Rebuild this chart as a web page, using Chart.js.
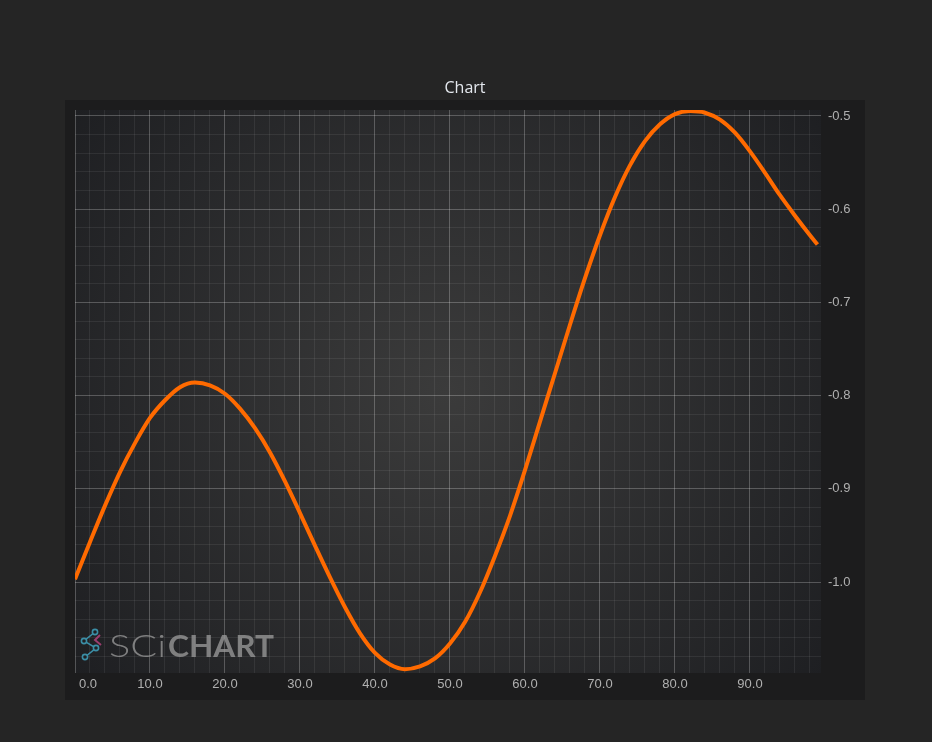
<!DOCTYPE html>
<html>
<head>
<meta charset="utf-8">
<script src="https://cdn.jsdelivr.net/npm/chart.js@4.4.0/dist/chart.umd.min.js"></script>
<style>
  html, body { margin: 0; padding: 0; background: #252525; }
  #wrap { position: relative; width: 932px; height: 742px; }
</style>
</head>
<body>
<div id="wrap"><canvas id="grafico" width="932" height="742"></canvas></div>
<script>
// valores
const xValues = [0, 2, 4, 6, 8, 10, 12, 14, 16, 18, 20, 22, 24, 26, 28, 30, 32, 34, 36, 38,
  40, 42, 44, 46, 48, 50, 52, 54, 56, 58, 60, 62, 64, 66, 68, 70, 72, 74, 76, 78,
  80, 82, 84, 86, 88, 90, 92, 94, 96, 98, 99];
const yValues = [-0.997, -0.957, -0.918, -0.882, -0.851, -0.824, -0.805, -0.791, -0.786, -0.789,
  -0.798, -0.814, -0.835, -0.861, -0.892, -0.926, -0.961, -0.995, -1.027, -1.055,
  -1.076, -1.0885, -1.0935, -1.0905, -1.082, -1.066, -1.043, -1.011, -0.972, -0.929,
  -0.880, -0.828, -0.776, -0.724, -0.674, -0.628, -0.587, -0.553, -0.527, -0.509,
  -0.498, -0.4948, -0.4965, -0.504, -0.518, -0.538, -0.561, -0.585, -0.607, -0.628, -0.638];

const xMajorTicks = [0, 10, 20, 30, 40, 50, 60, 70, 80, 90];
const yMajorTicks = [-1.0, -0.9, -0.8, -0.7, -0.6, -0.5];
const xMinorStep = 2;
const yMinorStep = 0.02;
const xRange = [0, 99.47];
const yRange = [-1.0976, -0.4936];
const titulo = "Chart";

const FONTE = "'Liberation Sans', Arial, sans-serif";
const corMaior = "rgba(255,255,255,0.24)";
const corMenor = "rgba(255,255,255,0.07)";
const corTexto = "#b0b0b0";

const ehMultiplo = (v, passo) => Math.abs(v / passo - Math.round(v / passo)) < 1e-6;
const ehMaior = (v, lista) => lista.some((m) => Math.abs(m - v) < 1e-6);

const corGrade = (lista, passo) => (c) => {
  const v = c.tick ? c.tick.value : null;
  if (v === null) return "transparent";
  if (ehMaior(v, lista)) return corMaior;
  if (ehMultiplo(v, passo)) return corMenor;
  return "transparent";
};

const fundoPlugin = {
  id: "fundo",
  beforeDraw(chart) {
    const { ctx, chartArea: a } = chart;
    const px = a.left - 10, py = a.top - 10;
    const pw = a.right + 44 - px, ph = a.bottom + 27 - py;
    ctx.save();
    ctx.fillStyle = "#1c1c1d";
    ctx.fillRect(px, py, pw, ph);
    const cx = (a.left + a.right) / 2, cy = (a.top + a.bottom) / 2;
    const g = ctx.createRadialGradient(cx, cy, 0, cx, cy, 470);
    g.addColorStop(0, "#3b3b3b");
    g.addColorStop(1, "#1e1f22");
    ctx.fillStyle = g;
    ctx.fillRect(a.left, a.top, a.right - a.left, a.bottom - a.top);
    // titulo
    ctx.fillStyle = "#e4e8ee";
    ctx.font = "16px 'Open Sans', " + FONTE;
    ctx.textAlign = "center";
    ctx.textBaseline = "middle";
    ctx.fillText(titulo, px + pw / 2, py - 12);
    ctx.restore();
  },
};

const marcaPlugin = {
  id: "marca",
  beforeDatasetsDraw(chart) {
    const { ctx, chartArea: a } = chart;
    const x = a.left + 34, y = a.bottom - 16;
    ctx.save();
    // icone
    const p = [[a.left + 20, a.bottom - 41], [a.left + 9, a.bottom - 32], [a.left + 21, a.bottom - 25], [a.left + 10, a.bottom - 16]];
    ctx.strokeStyle = "#3b8ea6";
    ctx.lineWidth = 1.6;
    ctx.beginPath();
    ctx.moveTo(p[0][0], p[0][1]);
    for (let i = 1; i < p.length; i++) ctx.lineTo(p[i][0], p[i][1]);
    ctx.stroke();
    p.forEach(([qx, qy]) => {
      ctx.beginPath();
      ctx.fillStyle = "#1f2023";
      ctx.arc(qx, qy, 2.6, 0, Math.PI * 2);
      ctx.fill();
      ctx.stroke();
    });
    ctx.strokeStyle = "#9c3d6e";
    ctx.lineWidth = 2;
    ctx.beginPath();
    ctx.moveTo(a.left + 25, a.bottom - 38);
    ctx.lineTo(a.left + 20, a.bottom - 33);
    ctx.lineTo(a.left + 26, a.bottom - 28);
    ctx.stroke();
    // texto
    ctx.fillStyle = "rgba(150,150,150,0.8)";
    ctx.textBaseline = "alphabetic";
    ctx.font = "300 31px Lato, " + FONTE;
    let w = ctx.measureText("SCi").width;
    ctx.save();
    ctx.translate(x, y);
    ctx.scale(57 / w, 1);
    ctx.fillText("SCi", 0, 0);
    ctx.restore();
    ctx.font = "bold 31px Lato, " + FONTE;
    w = ctx.measureText("CHART").width;
    ctx.save();
    ctx.translate(x + 59, y);
    ctx.scale(106 / w, 1);
    ctx.fillText("CHART", 0, 0);
    ctx.restore();
    ctx.restore();
  },
};

// rotulos do eixo x (o primeiro fica dentro da area)
const rotulosXPlugin = {
  id: "rotulosX",
  afterDraw(chart) {
    const { ctx, chartArea: a } = chart;
    const escala = chart.scales.x;
    ctx.save();
    ctx.fillStyle = corTexto;
    ctx.font = "13px " + FONTE;
    ctx.textAlign = "center";
    ctx.textBaseline = "middle";
    xMajorTicks.forEach((v) => {
      const txt = v.toFixed(1);
      const w = ctx.measureText(txt).width;
      const cx = Math.max(escala.getPixelForValue(v), a.left + 4 + w / 2);
      ctx.fillText(txt, cx, a.bottom + 11);
    });
    ctx.restore();
  },
};

const ctx = document.getElementById("grafico").getContext("2d");
const grafico = new Chart(ctx, {
  type: "line",
  data: {
    datasets: [
      {
        data: xValues.map((x, i) => ({ x: x, y: yValues[i] })),
        borderColor: "#ff6a00",
        borderWidth: 4,
        pointRadius: 0,
        fill: false,
        cubicInterpolationMode: "monotone",
        clip: 0,
      },
    ],
  },
  options: {
    responsive: false,
    animation: false,
    layout: { padding: { left: 75, right: 67, top: 110, bottom: 42 } },
    scales: {
      x: {
        type: "linear",
        position: "bottom",
        min: xRange[0],
        max: xRange[1],
        border: { display: false },
        grid: { color: corGrade(xMajorTicks, xMinorStep), lineWidth: 1, drawTicks: false },
        ticks: {
          display: false,
          stepSize: xMinorStep,
          autoSkip: false,
          includeBounds: false,
        },
        afterFit: (s) => { s.height = 27; },
      },
      y: {
        type: "linear",
        position: "right",
        min: yRange[0],
        max: yRange[1],
        border: { display: false },
        grid: { color: corGrade(yMajorTicks, yMinorStep), lineWidth: 1, drawTicks: false },
        ticks: {
          stepSize: yMinorStep,
          autoSkip: false,
          includeBounds: false,
          padding: 7,
          color: corTexto,
          font: { family: FONTE, size: 13 },
          callback: (v) => (ehMaior(v, yMajorTicks) ? Number(v).toFixed(1) : ""),
        },
        afterFit: (s) => { s.width = 44; },
      },
    },
    plugins: {
      legend: { display: false },
      tooltip: { enabled: false },
      title: { display: false },
    },
  },
  plugins: [fundoPlugin, marcaPlugin, rotulosXPlugin],
});
</script>
</body>
</html>
